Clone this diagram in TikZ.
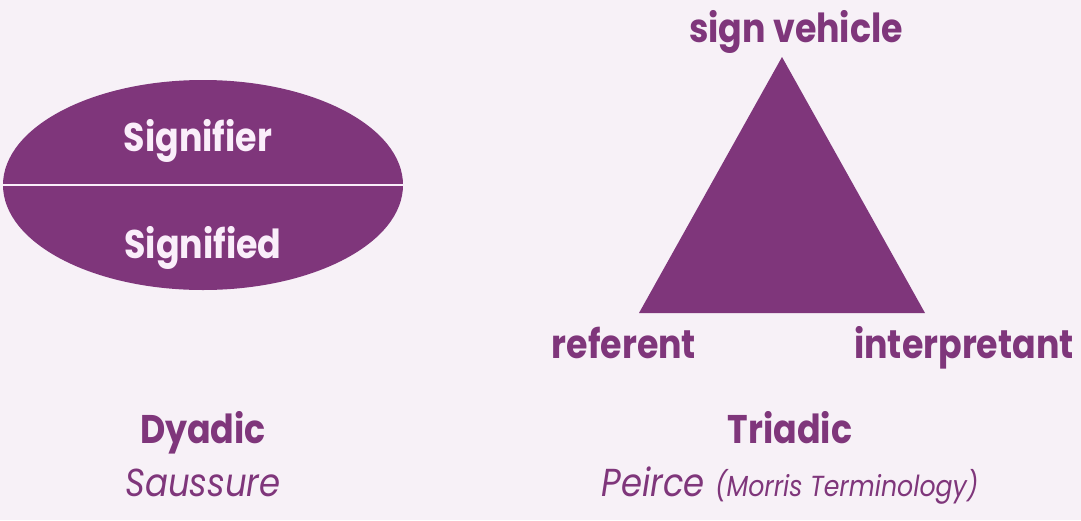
\documentclass[tikz,border=0pt]{standalone}
\usepackage{fontspec}
\setmainfont{Poppins}[FakeStretch=0.87]
\usetikzlibrary{shapes.geometric}
\definecolor{plum}{RGB}{127,54,123}
\definecolor{paper}{RGB}{247,241,247}
\definecolor{pale}{RGB}{250,238,250}
\begin{document}
\begin{tikzpicture}[
            x=1pt, y=-1pt,
            every node/.style={inner sep=0pt, anchor=base},
            label/.style={text=plum, font=\fontsize{40}{48}\selectfont\bfseries},
            inlabel/.style={text=pale, font=\fontsize{40}{48}\selectfont\bfseries},
            author/.style={text=plum, font=\fontsize{39}{46}\selectfont\itshape}
            ]
            \fill[paper] (0,0) rectangle (1081,520);
            \useasboundingbox (0,0) rectangle (1081,520);
            % dyadic sign
            \node[ellipse, fill=plum, minimum width=400pt, minimum height=210pt, anchor=center] (dyad) at (203,185) {};
            \draw[pale, line width=1.5pt] (dyad.west) -- (dyad.east);
            \node[inlabel] (signifier) at (198,151) {Signifier};
            \node[inlabel] (signified) at (203,258) {Signified};
            % triadic sign
            \coordinate (top) at (782,57);
            \coordinate (left) at (639,313);
            \coordinate (right) at (925,313);
            \fill[plum] (top) -- (left) -- (right) -- cycle;
            \node[label] (vehicle) at (796,42) {sign vehicle};
            \node[label] (referent) at (624,358) {referent};
            \node[label] (interpretant) at (964,358) {interpretant};
            % captions
            \node[label] (dyadic) at (203,443) {Dyadic};
            \node[author] (saussure) at (203,496) {Saussure};
            \node[label] (triadic) at (790,443) {Triadic};
            \node[author] (peirce) at (790,496) {Peirce {\fontsize{29}{34}\selectfont(Morris Terminology)}};
        \end{tikzpicture}
\end{document}
